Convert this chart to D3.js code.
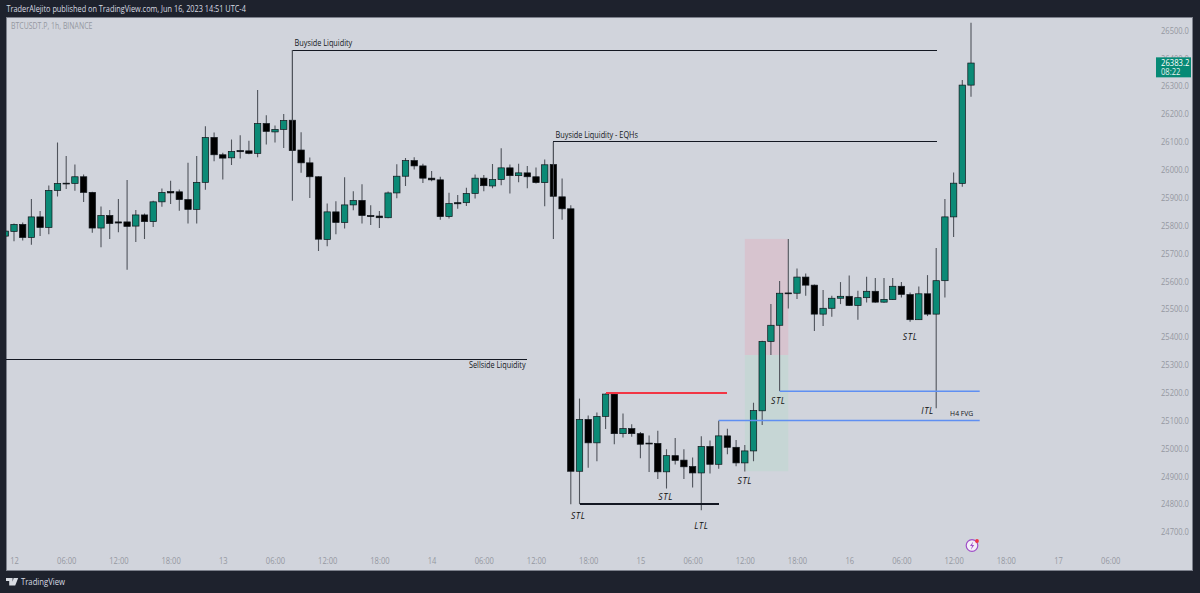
<!DOCTYPE html>
<html><head><meta charset="utf-8">
<style>
html,body{margin:0;padding:0;background:#1e222d;overflow:hidden}
svg{display:block}
text{font-family:"Open Sans","Liberation Sans",sans-serif}
</style>
<script src="https://cdn.jsdelivr.net/npm/d3@7/dist/d3.min.js"></script>
</head><body>
<svg id="c" width="1200" height="593"></svg>
<script>
const firstHour = -1;
const opens = [25762,
25779,25804,25757,25831,25793,25926,25952,25951,25975,25919,
25791,25836,25813,25813,25798,25838,25814,25885,25922,25921,
25893,25858,25955,26116,26054,26043,26069,26068,26059,26166,
26136,26145,26178,26071,26025,25975,25750,25849,25811,25874,
25890,25836,25834,25828,25917,25977,26033,26014,25970,25964,
25832,25882,25882,25915,25970,25942,25965,26007,25979,25989,
25975,25954,26019,25903,25860,24918,25104,25020,25115,25195,
25053,25071,25053,25019,25018,24916,24974,24958,24935,24912,
25007,24943,25045,25004,24948,24991,25135,25384,25442,25558,
25557,25615,25586,25482,25503,25539,25546,25513,25541,25564,
25525,25534,25582,25552,25462,25555,25482,25602,25831,25951,26304];
const closes = [25780,
25804,25757,25831,25793,25926,25951,25950,25975,25919,25791,
25836,25807,25809,25797,25838,25814,25885,25919,25917,25893,
25858,25955,26116,26054,26042,26066,26065,26059,26166,26138,
26145,26177,26069,26025,25975,25751,25849,25811,25874,25890,
25836,25832,25828,25917,25977,26033,26014,25970,25964,25832,
25879,25878,25915,25970,25943,25965,26007,25979,25989,25975,
25954,26018,25905,25860,24918,25104,25020,25115,25195,25053,
25071,25053,25015,25016,24916,24974,24957,24934,24912,25007,
24943,25045,25004,24948,24991,25136,25384,25442,25557,25555,
25615,25586,25482,25503,25539,25546,25513,25541,25564,25525,
25535,25582,25553,25462,25555,25482,25602,25831,25952,26304,26383.2];
const highs = [25784,
25807,25811,25895,25852,25944,26098,26050,26019,25983,25921,
25868,25856,25895,25963,25856,25843,25889,25933,25961,25929,
26025,26050,26156,26134,26061,26109,26124,26104,26286,26196,
26159,26200,26430,26135,26044,25977,25879,25887,25973,25923,
25948,25873,25852,25922,26020,26042,26045,26022,25996,25975,
25918,25910,25936,25983,25981,26021,26077,26019,26022,26014,
26008,26037,26100,25969,25873,25179,25118,25129,25197,25197,
25125,25087,25059,25046,25063,24997,25037,24997,24967,25044,
25028,25099,25071,25030,25012,25164,25386,25518,25601,25752,
25646,25628,25588,25569,25548,25597,25621,25566,25616,25612,
25612,25612,25597,25560,25581,25622,25719,25895,25990,26322,26528];
const lows = [25757,
25744,25746,25731,25762,25769,25904,25931,25925,25884,25774,
25722,25752,25776,25641,25741,25752,25795,25867,25877,25853,
25807,25807,25928,26031,25965,26017,26041,26056,26045,26091,
26098,26078,25889,25989,25899,25709,25726,25769,25789,25855,
25807,25802,25791,25826,25898,25942,26001,25953,25959,25821,
25825,25860,25870,25897,25923,25934,25945,25915,25955,25934,
25951,25869,25752,25821,24800,24800,24931,24954,25070,25015,
25039,25042,24965,24915,24890,24856,24942,24890,24860,24778,
24910,24927,24979,24936,24917,24954,25084,25335,25206,25502,
25536,25548,25421,25439,25473,25518,25511,25462,25524,25523,
25523,25533,25542,25455,25461,25475,25144,25542,25759,25939,26262];

const priceTicks = [26500,26400,26300,26200,26100,26000,25900,25800,25700,25600,25500,25400,25300,25200,25100,25000,24900,24800,24700];
const timeTickHours = [0,6,12,18,24,30,36,42,48,54,60,66,72,78,84,90,96,102,108,114,120,126];
const timeTickLabels = ["12","06:00","12:00","18:00","13","06:00","12:00","18:00","14","06:00","12:00","18:00","15","06:00","12:00","18:00","16","06:00","12:00","18:00","17","06:00"];

// drawings: price level, from hour, to hour
const levelPrices = [26430,26100,25320,24800,25200,25100,25205];
const levelFrom   = [32,62,-1,65,68,81,88];
const levelTo     = [106.1,106.1,59,81,82,111,111];
const levelColors = ["#131722","#131722","#131722","#131722","#f23645","#5f8ff2","#5f8ff2"];
const levelWidths = [1,1,1,2,2,1.4,1.4];
const levelCrisp  = [1,1,1,1,1,0,0];

const boxFrom = 84, boxTo = 89;
const boxTop = 25752, boxEntry = 25335, boxBottom = 24918;

const noteTexts  = ["Buyside Liquidity","Buyside Liquidity - EQHs","Sellside Liquidity","H4 FVG"];
const noteHours  = [32.25,62.25,58.8,107.6];
const notePrices = [26443,26113,25290,25116];
const noteAnchors= ["start","start","end","start"];

const tagTexts  = ["STL","STL","STL","STL","STL","LTL","ITL"];
const tagHours  = [64.85,74.9,84,87.85,103,79,105];
const tagPrices = [24746,24816,24874,25159,25390,24709,25125];

const W = 1200, H = 593;
const svg = d3.select("#c");
const x = d3.scaleLinear().domain([0,110]).range([14,971]);
const y = d3.scaleLinear().domain([24700,26500]).range([532,30.5]);

function squeeze(sel,k){
  sel.each(function(){
    this.setAttribute("textLength",(this.getComputedTextLength()*k).toFixed(1));
    this.setAttribute("lengthAdjust","spacingAndGlyphs");
  });
  return sel;
}

svg.append("defs").append("clipPath").attr("id","plot").append("rect")
  .attr("x",6).attr("y",17).attr("width",1187).attr("height",553.5);

// pane
svg.append("rect").attr("width",W).attr("height",H).attr("fill","#1e222d");
svg.append("rect").attr("x",6.5).attr("y",17.5).attr("width",1186).attr("height",553)
  .attr("fill","#d1d4dc").attr("stroke","#7d818c").attr("stroke-width",1);

const g = svg.append("g").attr("clip-path","url(#plot)");

// position box
g.append("rect").attr("x",x(boxFrom)).attr("width",x(boxTo)-x(boxFrom))
  .attr("y",y(boxTop)).attr("height",y(boxEntry)-y(boxTop)).attr("fill","#d7c4cf");
g.append("rect").attr("x",x(boxFrom)).attr("width",x(boxTo)-x(boxFrom))
  .attr("y",y(boxEntry)).attr("height",y(boxBottom)-y(boxEntry)).attr("fill","#c6d6d5");

// candles
const candles = opens.map((o,i)=>({h:i+firstHour,o,c:closes[i],hi:highs[i],lo:lows[i]}));
const bw = 6.4;
const cg = g.append("g").selectAll("g").data(candles).join("g");
cg.append("line").attr("x1",d=>x(d.h)).attr("x2",d=>x(d.h))
  .attr("y1",d=>y(d.hi)).attr("y2",d=>y(d.lo))
  .attr("stroke","#50545c").attr("stroke-width",1.1);
cg.append("rect").attr("x",d=>x(d.h)-bw/2).attr("width",bw)
  .attr("y",d=>y(Math.max(d.o,d.c)))
  .attr("height",d=>Math.max(0.8,Math.abs(y(d.o)-y(d.c))))
  .attr("fill",d=>d.c>=d.o?"#0b8a76":"#000")
  .attr("stroke","#10151a").attr("stroke-width",0.7);

// drawn levels
g.append("g").selectAll("line").data(levelPrices).join("line")
  .attr("shape-rendering",(d,i)=>levelCrisp[i]?"crispEdges":"auto")
  .attr("x1",(d,i)=>x(levelFrom[i])).attr("x2",(d,i)=>x(levelTo[i]))
  .attr("y1",d=>y(d)).attr("y2",d=>y(d))
  .attr("stroke",(d,i)=>levelColors[i]).attr("stroke-width",(d,i)=>levelWidths[i]);
// vertical stems of the buyside lines
g.append("g").selectAll("line").data([0,1]).join("line")
  .attr("x1",i=>x(levelFrom[i])).attr("x2",i=>x(levelFrom[i]))
  .attr("y1",i=>y(levelPrices[i])).attr("y2",i=>y(closes[levelFrom[i]-firstHour]))
  .attr("stroke","#50545c").attr("stroke-width",1);

// notes
squeeze(g.append("g").selectAll("text").data(noteTexts).join("text")
  .attr("x",(d,i)=>x(noteHours[i])).attr("y",(d,i)=>y(notePrices[i]))
  .attr("text-anchor",(d,i)=>noteAnchors[i])
  .attr("font-size",(d,i)=>i===3?8:8.6).attr("fill","#131722").text(d=>d),0.85);
g.append("g").selectAll("text").data(tagTexts).join("text")
  .attr("x",(d,i)=>x(tagHours[i])).attr("y",(d,i)=>y(tagPrices[i]))
  .attr("text-anchor","middle").attr("font-size",8.6).attr("font-style","italic")
  .attr("letter-spacing",0.6).attr("fill","#111").text(d=>d);

// axes
const yAxis = d3.axisRight(y).tickValues(priceTicks).tickSize(0).tickPadding(0).tickFormat(d=>d3.format(".1f")(d));
const ya = svg.append("g").attr("transform","translate(1161,0)").call(yAxis);
ya.select(".domain").remove();
squeeze(ya.selectAll("text").attr("font-size",8.6).attr("fill","#9598a1").attr("font-family","'Open Sans',sans-serif"),0.88);

const xAxis = d3.axisBottom(x).tickValues(timeTickHours).tickSize(0).tickPadding(0)
  .tickFormat((d,i)=>timeTickLabels[i]);
const xa = svg.append("g").attr("transform","translate(0,558)").call(xAxis);
xa.select(".domain").remove();
squeeze(xa.selectAll("text").attr("font-size",8.6).attr("fill","#9598a1").attr("font-family","'Open Sans',sans-serif"),0.88);

// last price badge
const lastPrice = closes[closes.length-1];
svg.append("rect").attr("x",1156).attr("y",y(lastPrice)-5.7).attr("width",35).attr("height",20).attr("fill","#078a76");
squeeze(svg.append("text").attr("x",1161).attr("y",y(lastPrice)+3).attr("font-size",8.8).attr("fill","#fff").text(d3.format(".1f")(lastPrice)),0.87);
squeeze(svg.append("text").attr("x",1161).attr("y",y(lastPrice)+12.4).attr("font-size",8.6).attr("fill","#e8f2f0").text("08:22"),0.88);

// header / footer
squeeze(svg.append("text").attr("x",6.5).attr("y",12).attr("font-size",8.9).attr("fill","#d8dbe2")
  .text("TraderAlejito published on TradingView.com, Jun 16, 2023 14:51 UTC-4"),0.825);
squeeze(svg.append("text").attr("x",11).attr("y",29).attr("font-size",8.4).attr("fill","#9598a1")
  .text("BTCUSDT.P, 1h, BINANCE"),0.83);
svg.append("path").attr("d","M6 578h6.6v7.4h-3.4v-4.3h-3.2zM13.6 578h4.6l-3 7.4h-3.6z").attr("fill","#d8dbe2");
squeeze(svg.append("text").attr("x",21).attr("y",585.3).attr("font-size",9.6).attr("fill","#d8dbe2").text("TradingView"),0.8);

// alert icon
svg.append("circle").attr("cx",972).attr("cy",545.5).attr("r",5.8).attr("fill","#f4eef8").attr("stroke","#a04fc8").attr("stroke-width",1.2);
svg.append("path").attr("d","M973.2 541.5l-3.2 4.6h2.1l-1.2 3.6 3.3-4.8h-2.1z").attr("fill","#a04fc8");
svg.append("circle").attr("cx",977).attr("cy",541).attr("r",1.9).attr("fill","#f23645");
</script>
</body></html>
